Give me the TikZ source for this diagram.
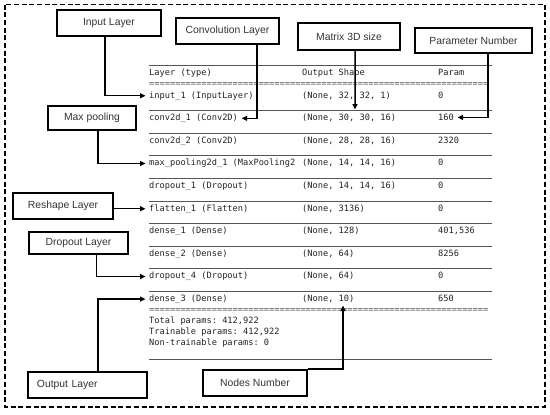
\documentclass[tikz,border=0pt]{standalone}
\usepackage{fontspec}
\setmainfont{Liberation Sans}
\setmonofont{DejaVu Sans Mono}
\usetikzlibrary{arrows.meta}
\definecolor{labelgray}{HTML}{333333}
\definecolor{rulegray}{HTML}{555555}
\definecolor{cellgray}{HTML}{222222}
\tikzset{
 lbl/.style={draw=black,line width=1.8bp,fill=white,text=labelgray,font=\fontsize{10.4}{12}\selectfont,inner sep=0pt},
 cell/.style={anchor=base west,inner xsep=3bp,inner ysep=0pt,font=\fontsize{8.7}{10}\ttfamily,text=cellgray},
 rule/.style={rulegray,line width=0.9bp},
 arr/.style={line width=1.5bp,-{Triangle[length=5.5bp,width=5bp]},shorten >=0.5bp}
}
\begin{document}
\begin{tikzpicture}[x=1bp,y=-1bp]
 \useasboundingbox (0,0) rectangle (550,414);
 \draw[line width=1.6bp,dash pattern=on 5bp off 2.7bp] (5,4.5) rectangle (545,407);
 \draw[rule] (149,65)--(492,65);
 \node[cell] (hlayer) at (146,75) {Layer (type)};
 \node[cell] (hshape) at (299,75) {Output Shape};
 \node[cell] (hparam) at (435,75) {Param};
 \node[cell,text=rulegray] (eqtop) at (146,86.3) {=================================================================};
 \node[cell] (input1) at (146,98) {input\_1 (InputLayer)};
 \node[cell] (s1) at (299,98) {(None, 32, 32, 1)};
 \node[cell] (p1) at (435,98) {0};
 \draw[rule] (149,110.6)--(492,110.6);
 \node[cell] (conv1) at (146,120.6) {conv2d\_1 (Conv2D)};
 \node[cell] (s2) at (299,120.6) {(None, 30, 30, 16)};
 \node[cell] (p2) at (435,120.6) {160};
 \draw[rule] (149,133.2)--(492,133.2);
 \node[cell] (conv2) at (146,143.2) {conv2d\_2 (Conv2D)};
 \node[cell] (s3) at (299,143.2) {(None, 28, 28, 16)};
 \node[cell] (p3) at (435,143.2) {2320};
 \draw[rule] (149,155.8)--(492,155.8);
 \node[cell] (maxpool1) at (146,165.8) {max\_pooling2d\_1 (MaxPooling2};
 \node[cell] (s4) at (299,165.8) {(None, 14, 14, 16)};
 \node[cell] (p4) at (435,165.8) {0};
 \draw[rule] (149,178.4)--(492,178.4);
 \node[cell] (drop1) at (146,188.4) {dropout\_1 (Dropout)};
 \node[cell] (s5) at (299,188.4) {(None, 14, 14, 16)};
 \node[cell] (p5) at (435,188.4) {0};
 \draw[rule] (149,201)--(492,201);
 \node[cell] (flat1) at (146,211) {flatten\_1 (Flatten)};
 \node[cell] (s6) at (299,211) {(None, 3136)};
 \node[cell] (p6) at (435,211) {0};
 \draw[rule] (149,223.6)--(492,223.6);
 \node[cell] (dense1) at (146,233.6) {dense\_1 (Dense)};
 \node[cell] (s7) at (299,233.6) {(None, 128)};
 \node[cell] (p7) at (435,233.6) {401,536};
 \draw[rule] (149,246.2)--(492,246.2);
 \node[cell] (dense2) at (146,256.2) {dense\_2 (Dense)};
 \node[cell] (s8) at (299,256.2) {(None, 64)};
 \node[cell] (p8) at (435,256.2) {8256};
 \draw[rule] (149,268.8)--(492,268.8);
 \node[cell] (drop4) at (146,278.8) {dropout\_4 (Dropout)};
 \node[cell] (s9) at (299,278.8) {(None, 64)};
 \node[cell] (p9) at (435,278.8) {0};
 \draw[rule] (149,291.4)--(492,291.4);
 \node[cell] (dense3) at (146,301.4) {dense\_3 (Dense)};
 \node[cell] (s10) at (299,301.4) {(None, 10)};
 \node[cell] (p10) at (435,301.4) {650};
 \node[cell,text=rulegray] (eqbot) at (146,312.3) {=================================================================};
 \node[cell] (total) at (146,323.3) {Total params: 412,922};
 \node[cell] (trainable) at (146,334.6) {Trainable params: 412,922};
 \node[cell] (nontrain) at (146,345.8) {Non-trainable params: 0};
 \draw[rule] (149,359)--(492,359);
 \node[lbl,minimum width=104bp,minimum height=26bp] (inputbox) at (109,23) {Input Layer};
 \node[lbl,minimum width=103bp,minimum height=26bp] (convbox) at (227.5,31) {Convolution Layer};
 \node[lbl,minimum width=102bp,minimum height=27bp] (matrixbox) at (349,36.5) {Matrix 3D size};
 \node[lbl,minimum width=117bp,minimum height=25bp] (parambox) at (473.5,40.5) {Parameter Number};
 \node[lbl,minimum width=88bp,minimum height=24bp] (poolbox) at (92,118) {Max pooling};
 \node[lbl,minimum width=100bp,minimum height=26bp] (reshapebox) at (63,206) {Reshape Layer};
 \node[lbl,minimum width=99bp,minimum height=22bp] (dropbox) at (78.5,243) {Dropout Layer};
 \node[lbl,minimum height=26bp,text width=101bp,inner xsep=9bp,align=left] (outputbox) at (87.5,385) {Output Layer};
 \node[lbl,minimum width=104bp,minimum height=26bp] (nodesbox) at (255,383) {Nodes Number};
 \coordinate (shapetip) at (355,110);
 \coordinate (sizetip) at (343,305);
 \draw[arr] ([xshift=-4bp]inputbox.south) |- (input1.west);
 \draw[arr] ([xshift=29.5bp]convbox.south) |- (conv1.east);
 \draw[arr] ([xshift=6bp]matrixbox.south) -- (shapetip);
 \draw[arr] ([xshift=14.5bp]parambox.south) |- (p2.east);
 \draw[arr] ([xshift=6bp]poolbox.south) |- (maxpool1.west);
 \draw[arr] (reshapebox.east |- flat1.west) -- (flat1.west);
 \draw[arr] ([xshift=18bp]dropbox.south) |- (drop4.west);
 \draw[arr] ([xshift=10.5bp]outputbox.north) |- (dense3.west);
 \draw[arr] (nodesbox.north east) -| (sizetip);
\end{tikzpicture}
\end{document}
